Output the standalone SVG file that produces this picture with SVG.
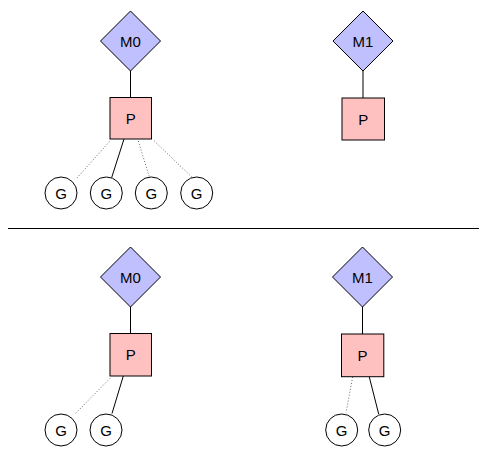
<svg xmlns="http://www.w3.org/2000/svg" width="488" height="454" viewBox="0 0 488 454">
<style>
.m{fill:#c0c0ff;stroke:#000;stroke-width:1}
.p{fill:#ffc0c0;stroke:#000;stroke-width:1}
.g{fill:#fff;stroke:#000;stroke-width:1}
.t{font-family:"Liberation Sans",Arial,sans-serif;font-size:15px;fill:#000;text-anchor:middle;dominant-baseline:central}
.s{stroke:#000;stroke-width:1;fill:none}
.d{stroke:#666;stroke-width:1;stroke-dasharray:1,2;fill:none}
</style>
<rect width="488" height="454" fill="#fff"/>
<g id="connectors">
<line class="s" x1="130.5" y1="71" x2="130.5" y2="97"/>
<line class="s" x1="124" y1="139" x2="111.7" y2="177.5"/>
<line class="d" x1="109.5" y1="141.5" x2="76" y2="179"/>
<line class="d" x1="138.3" y1="141" x2="149.3" y2="176.7"/>
<line class="d" x1="154.3" y1="141" x2="191.7" y2="177"/>
<line class="s" x1="363" y1="71" x2="363" y2="98"/>
<line class="s" x1="8" y1="228.5" x2="479" y2="228.5"/>
<line class="s" x1="130.5" y1="307" x2="130.5" y2="333.5"/>
<line class="s" x1="123.3" y1="376" x2="112" y2="413.5"/>
<line class="d" x1="110" y1="378.3" x2="75" y2="414"/>
<line class="s" x1="362.5" y1="307" x2="362.5" y2="334"/>
<line class="d" x1="352.7" y1="377" x2="346" y2="412.7"/>
<line class="s" x1="369.3" y1="377" x2="378.7" y2="414"/>
</g>
<g id="M0_top"><polygon class="m" points="130.5,11 160.5,41 130.5,71 100.5,41"/><text class="t" x="130.5" y="41">M0</text></g>
<g id="P_top_left"><rect class="p" x="110" y="97.5" width="41.5" height="41.5"/><text class="t" x="130.8" y="118.3">P</text></g>
<g id="G_t1"><circle class="g" cx="61" cy="193" r="16"/><text class="t" x="61" y="193">G</text></g>
<g id="G_t2"><circle class="g" cx="106.3" cy="193" r="16"/><text class="t" x="106.3" y="193">G</text></g>
<g id="G_t3"><circle class="g" cx="151.3" cy="193" r="16"/><text class="t" x="151.3" y="193">G</text></g>
<g id="G_t4"><circle class="g" cx="196.7" cy="193" r="16"/><text class="t" x="196.7" y="193">G</text></g>
<g id="M1_top"><polygon class="m" points="363,11 393,41 363,71 333,41"/><text class="t" x="363" y="41">M1</text></g>
<g id="P_top_right"><rect class="p" x="342" y="98" width="42.5" height="42"/><text class="t" x="363.2" y="119">P</text></g>
<g id="M0_bottom"><polygon class="m" points="130.5,247 160.5,277 130.5,307 100.5,277"/><text class="t" x="130.5" y="277">M0</text></g>
<g id="P_bottom_left"><rect class="p" x="110" y="333.5" width="41.5" height="42.5"/><text class="t" x="130.8" y="354.8">P</text></g>
<g id="G_b1"><circle class="g" cx="61" cy="430" r="16"/><text class="t" x="61" y="430">G</text></g>
<g id="G_b2"><circle class="g" cx="106" cy="430" r="16"/><text class="t" x="106" y="430">G</text></g>
<g id="M1_bottom"><polygon class="m" points="362.5,247 392.5,277 362.5,307 332.5,277"/><text class="t" x="362.5" y="277">M1</text></g>
<g id="P_bottom_right"><rect class="p" x="341.5" y="334" width="42.3" height="42.7"/><text class="t" x="362.6" y="355.3">P</text></g>
<g id="G_b3"><circle class="g" cx="341.7" cy="430" r="16"/><text class="t" x="341.7" y="430">G</text></g>
<g id="G_b4"><circle class="g" cx="384.7" cy="430" r="16"/><text class="t" x="384.7" y="430">G</text></g>
</svg>
